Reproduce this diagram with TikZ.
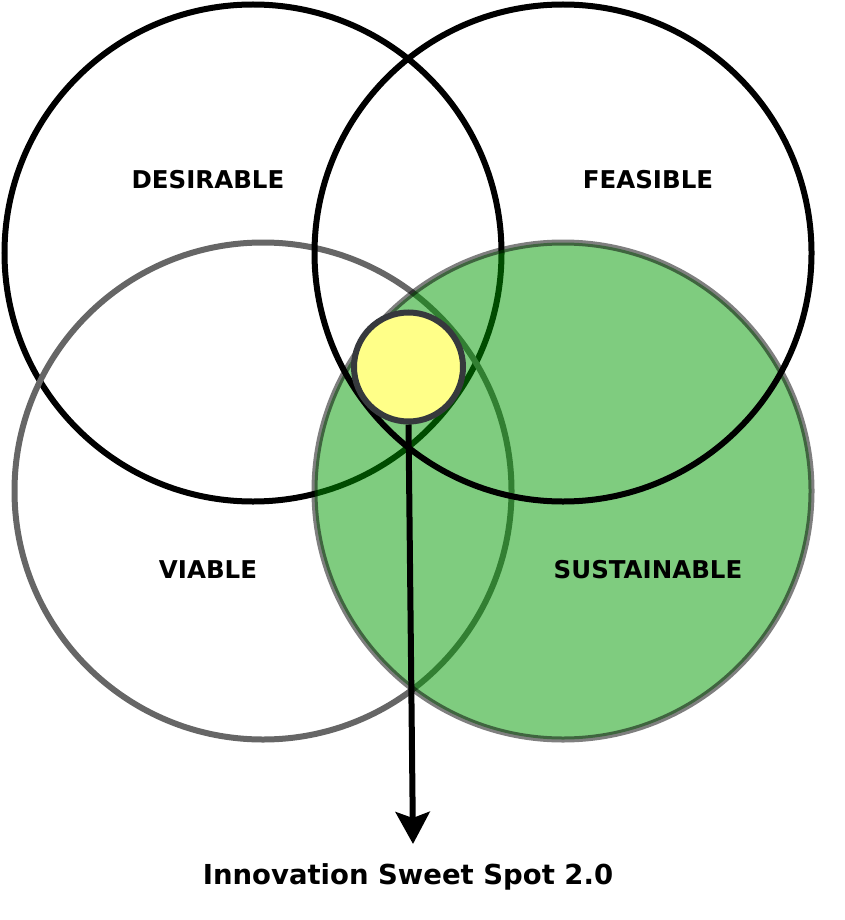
\documentclass[tikz,border=0pt]{standalone}
\usepackage{fontspec}
\setmainfont{DejaVu Sans}
\usepackage{tikz}
\usetikzlibrary{arrows.meta,positioning}
\definecolor{setgreen}{RGB}{0,153,0}
\definecolor{spotfill}{RGB}{255,255,136}
\definecolor{spotline}{RGB}{54,57,61}

\begin{document}
\begin{tikzpicture}[x=1pt, y=-1pt,
    ring/.style={circle, draw, line width=6pt, inner sep=0pt, minimum size=497pt},
    setname/.style={font=\fontsize{24.5}{29}\selectfont\bfseries},
    spotring/.style={circle, draw=spotline, fill=spotfill, line width=6pt, inner sep=0pt, minimum size=109pt},
    pointer/.style={draw, line width=6pt, -{Stealth[length=32pt, width=34pt, inset=6pt]}}
  ]
    \useasboundingbox (0,0) rectangle (844,920);

    % Circles
    \node[ring, draw=black] (desirable) at (253,253) {};
    \node[ring, draw=black!60] (viable) at (263,491) {};
    \node[ring, draw=black, fill=setgreen, opacity=0.5] (sustainable) at (563,491) {};
    \node[ring, draw=black] (feasible) at (563,253) {};

    % Names
    \node[setname] (desirablename) at (208,180) {DESIRABLE};
    \node[setname] (feasiblename) at (648,180) {FEASIBLE};
    \node[setname] (viablename) at (208,570) {VIABLE};
    \node[setname] (sustainablename) at (648,570) {SUSTAINABLE};

    % Sweet spot
    \node[spotring] (spot) at (408.5,367) {};
    \coordinate (tip) at (413,844);
    \draw[pointer] (spot.south) -- (tip);
    \node[font=\fontsize{27.5}{32}\selectfont\bfseries] (spotname) at (408,877) {Innovation Sweet Spot 2.0};
  \end{tikzpicture}
\end{document}
